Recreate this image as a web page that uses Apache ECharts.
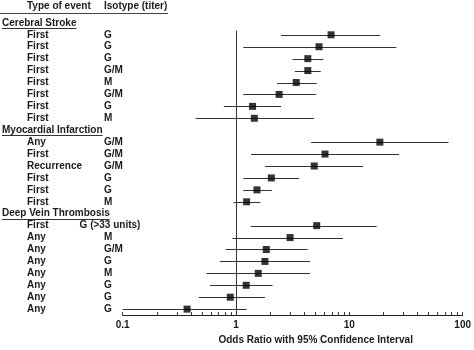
<!DOCTYPE html>
<html>
<head>
<meta charset="utf-8">
<script src="https://cdn.jsdelivr.net/npm/echarts@6/dist/echarts.min.js"></script>
<style>
  html, body { margin: 0; padding: 0; background: #fff; }
  #chart { width: 474px; height: 350px; }
</style>
</head>
<body>
<div id="chart"></div>
<script>
// Event groups and the rows that belong to each (group index per row)
const groupNames = ['Cerebral Stroke', 'Myocardial Infarction', 'Deep Vein Thrombosis'];
const rowGroup = [0, 0, 0, 0, 0, 0, 0, 0, 1, 1, 1, 1, 1, 1, 2, 2, 2, 2, 2, 2, 2, 2];
const rowEvent = ['First', 'First', 'First', 'First', 'First', 'First', 'First', 'First',
  'Any', 'First', 'Recurrence', 'First', 'First', 'First',
  'First', 'Any', 'Any', 'Any', 'Any', 'Any', 'Any', 'Any'];
const rowIsotype = ['G', 'G', 'G', 'G/M', 'M', 'G/M', 'G', 'M',
  'G/M', 'G/M', 'G/M', 'G', 'G', 'M',
  'G (>33 units)', 'M', 'G/M', 'G', 'M', 'G', 'G', 'G'];

// Odds ratios with 95% confidence limits
const oddsRatio = [6.9, 5.4, 4.3, 4.3, 3.4, 2.4, 1.4, 1.45,
  18.6, 6.1, 4.9, 2.05, 1.53, 1.24,
  5.15, 3.0, 1.85, 1.8, 1.57, 1.23, 0.89, 0.37];
const ciLow = [2.5, 1.16, 3.15, 3.3, 2.3, 1.16, 0.78, 0.44,
  4.6, 1.36, 1.8, 1.16, 1.16, 0.95,
  1.35, 0.93, 0.81, 0.72, 0.55, 0.59, 0.47, 0.1];
const ciHigh = [18.7, 26, 5.9, 5.6, 5.15, 5.1, 2.5, 4.9,
  75, 27.5, 13.2, 3.6, 2.07, 1.64,
  17.4, 8.8, 4.3, 4.5, 4.5, 2.1, 1.8, 1.24];

// Axis ticks (log scale: every integer multiple inside each decade)
const tickLabels = [0.1, 1, 10, 100];
const tickValues = [0.1, 0.2, 0.3, 0.4, 0.5, 0.6, 0.7, 0.8, 0.9,
  1, 2, 3, 4, 5, 6, 7, 8, 9, 10, 20, 30, 40, 50, 60, 70, 80, 90, 100];

const headerEvent = 'Type of event';
const headerIsotype = 'Isotype (titer)';
const axisTitle = 'Odds Ratio with 95% Confidence Interval';

const FONT = '"Liberation Sans", Arial, Helvetica, sans-serif';
const TEXT_COLOR = '#1a1a1a';

// Each group heading takes one slot above its rows
const slotOf = rowGroup.map((g, i) => i + g + 1);
const headingSlot = groupNames.map((g, gi) => rowGroup.indexOf(gi) + gi);

const measureCtx = document.createElement('canvas').getContext('2d');
measureCtx.font = 'bold 10px ' + FONT;
const textWidth = s => measureCtx.measureText(s).width;

const chart = echarts.init(document.getElementById('chart'), null, { renderer: 'canvas' });

chart.setOption({
  animation: false,
  backgroundColor: '#fff',
  grid: { left: 122.7, right: 7.3, top: 16.9, bottom: 28.3 },
  xAxis: {
    type: 'log',
    logBase: 10,
    min: 0.1,
    max: 100,
    position: 'bottom',
    axisLine: { show: true, onZero: false, lineStyle: { color: '#222', width: 1 } },
    axisTick: { show: true, inside: true, length: 3, customValues: tickValues, lineStyle: { color: '#333', width: 1 } },
    axisLabel: {
      customValues: tickLabels,
      showMinLabel: true, showMaxLabel: true,
      fontFamily: FONT, fontWeight: 'bold', fontSize: 10, color: TEXT_COLOR, margin: 5,
      formatter: v => String(v)
    },
    splitLine: { show: false },
    minorTick: { show: false },
    name: axisTitle,
    nameLocation: 'middle',
    nameGap: 18,
    nameTextStyle: { fontFamily: FONT, fontWeight: 'bold', fontSize: 10, color: TEXT_COLOR, padding: [0, 0, 0, 46] }
  },
  yAxis: { type: 'value', inverse: true, min: -0.5, max: 24.5, show: false, splitLine: { show: false } },
  graphic: [
    { type: 'text', left: 27, top: 1, style: { text: headerEvent, font: 'bold 10px ' + FONT, fill: TEXT_COLOR } },
    { type: 'text', left: 104, top: 1, style: { text: headerIsotype, font: 'bold 10px ' + FONT, fill: TEXT_COLOR } },
    { type: 'line', shape: { x1: 0, y1: 13.5, x2: 168, y2: 13.5 }, style: { stroke: '#444', lineWidth: 1 } }
  ],
  series: [
    {
      // Confidence interval whiskers
      type: 'custom',
      name: 'ci',
      data: rowGroup.map((g, i) => [ciLow[i], ciHigh[i], slotOf[i]]),
      encode: { x: [0, 1], y: 2 },
      renderItem: (params, api) => {
        const a = api.coord([api.value(0), api.value(2)]);
        const b = api.coord([api.value(1), api.value(2)]);
        return {
          type: 'line',
          shape: { x1: a[0], y1: Math.round(a[1]) + 0.5, x2: b[0], y2: Math.round(b[1]) + 0.5 },
          style: { stroke: '#333', lineWidth: 1 }
        };
      },
      z: 2
    },
    {
      // Point estimates
      type: 'scatter',
      name: 'odds',
      data: rowGroup.map((g, i) => [oddsRatio[i], slotOf[i]]),
      symbol: 'rect',
      symbolSize: 7,
      itemStyle: { color: '#000' },
      z: 3,
      markLine: {
        silent: true,
        symbol: 'none',
        label: { show: false },
        lineStyle: { color: '#333', width: 1, type: 'solid' },
        data: [[{ coord: [1, 0.66] }, { coord: [1, 24.5] }]]
      }
    },
    {
      // Row labels: event type and isotype columns
      type: 'custom',
      name: 'rows',
      data: rowGroup.map((g, i) => [1, slotOf[i], i]),
      encode: { x: 0, y: 1 },
      clip: false,
      renderItem: (params, api) => {
        const y = api.coord([1, api.value(1)])[1];
        const i = api.value(2);
        const iso = rowIsotype[i];
        const w = textWidth(iso);
        const isoX = w > 40 ? 110 - w / 2 : 104;
        return {
          type: 'group',
          children: [
            { type: 'text', style: { text: rowEvent[i], x: 27, y: y, font: 'bold 10px ' + FONT, fill: TEXT_COLOR, verticalAlign: 'middle', align: 'left' } },
            { type: 'text', style: { text: iso, x: isoX, y: y, font: 'bold 10px ' + FONT, fill: TEXT_COLOR, verticalAlign: 'middle', align: 'left' } }
          ]
        };
      }
    },
    {
      // Group headings, underlined
      type: 'custom',
      name: 'groups',
      data: groupNames.map((g, gi) => [1, headingSlot[gi], gi]),
      encode: { x: 0, y: 1 },
      clip: false,
      renderItem: (params, api) => {
        const y = api.coord([1, api.value(1)])[1];
        const name = groupNames[api.value(2)];
        const w = textWidth(name);
        const uy = Math.round(y + 5) + 0.5;
        return {
          type: 'group',
          children: [
            { type: 'text', style: { text: name, x: 2, y: y, font: 'bold 10px ' + FONT, fill: TEXT_COLOR, verticalAlign: 'middle', align: 'left' } },
            { type: 'line', shape: { x1: 2, y1: uy, x2: 2 + w, y2: uy }, style: { stroke: '#333', lineWidth: 1 } }
          ]
        };
      }
    }
  ]
});
</script>
</body>
</html>
